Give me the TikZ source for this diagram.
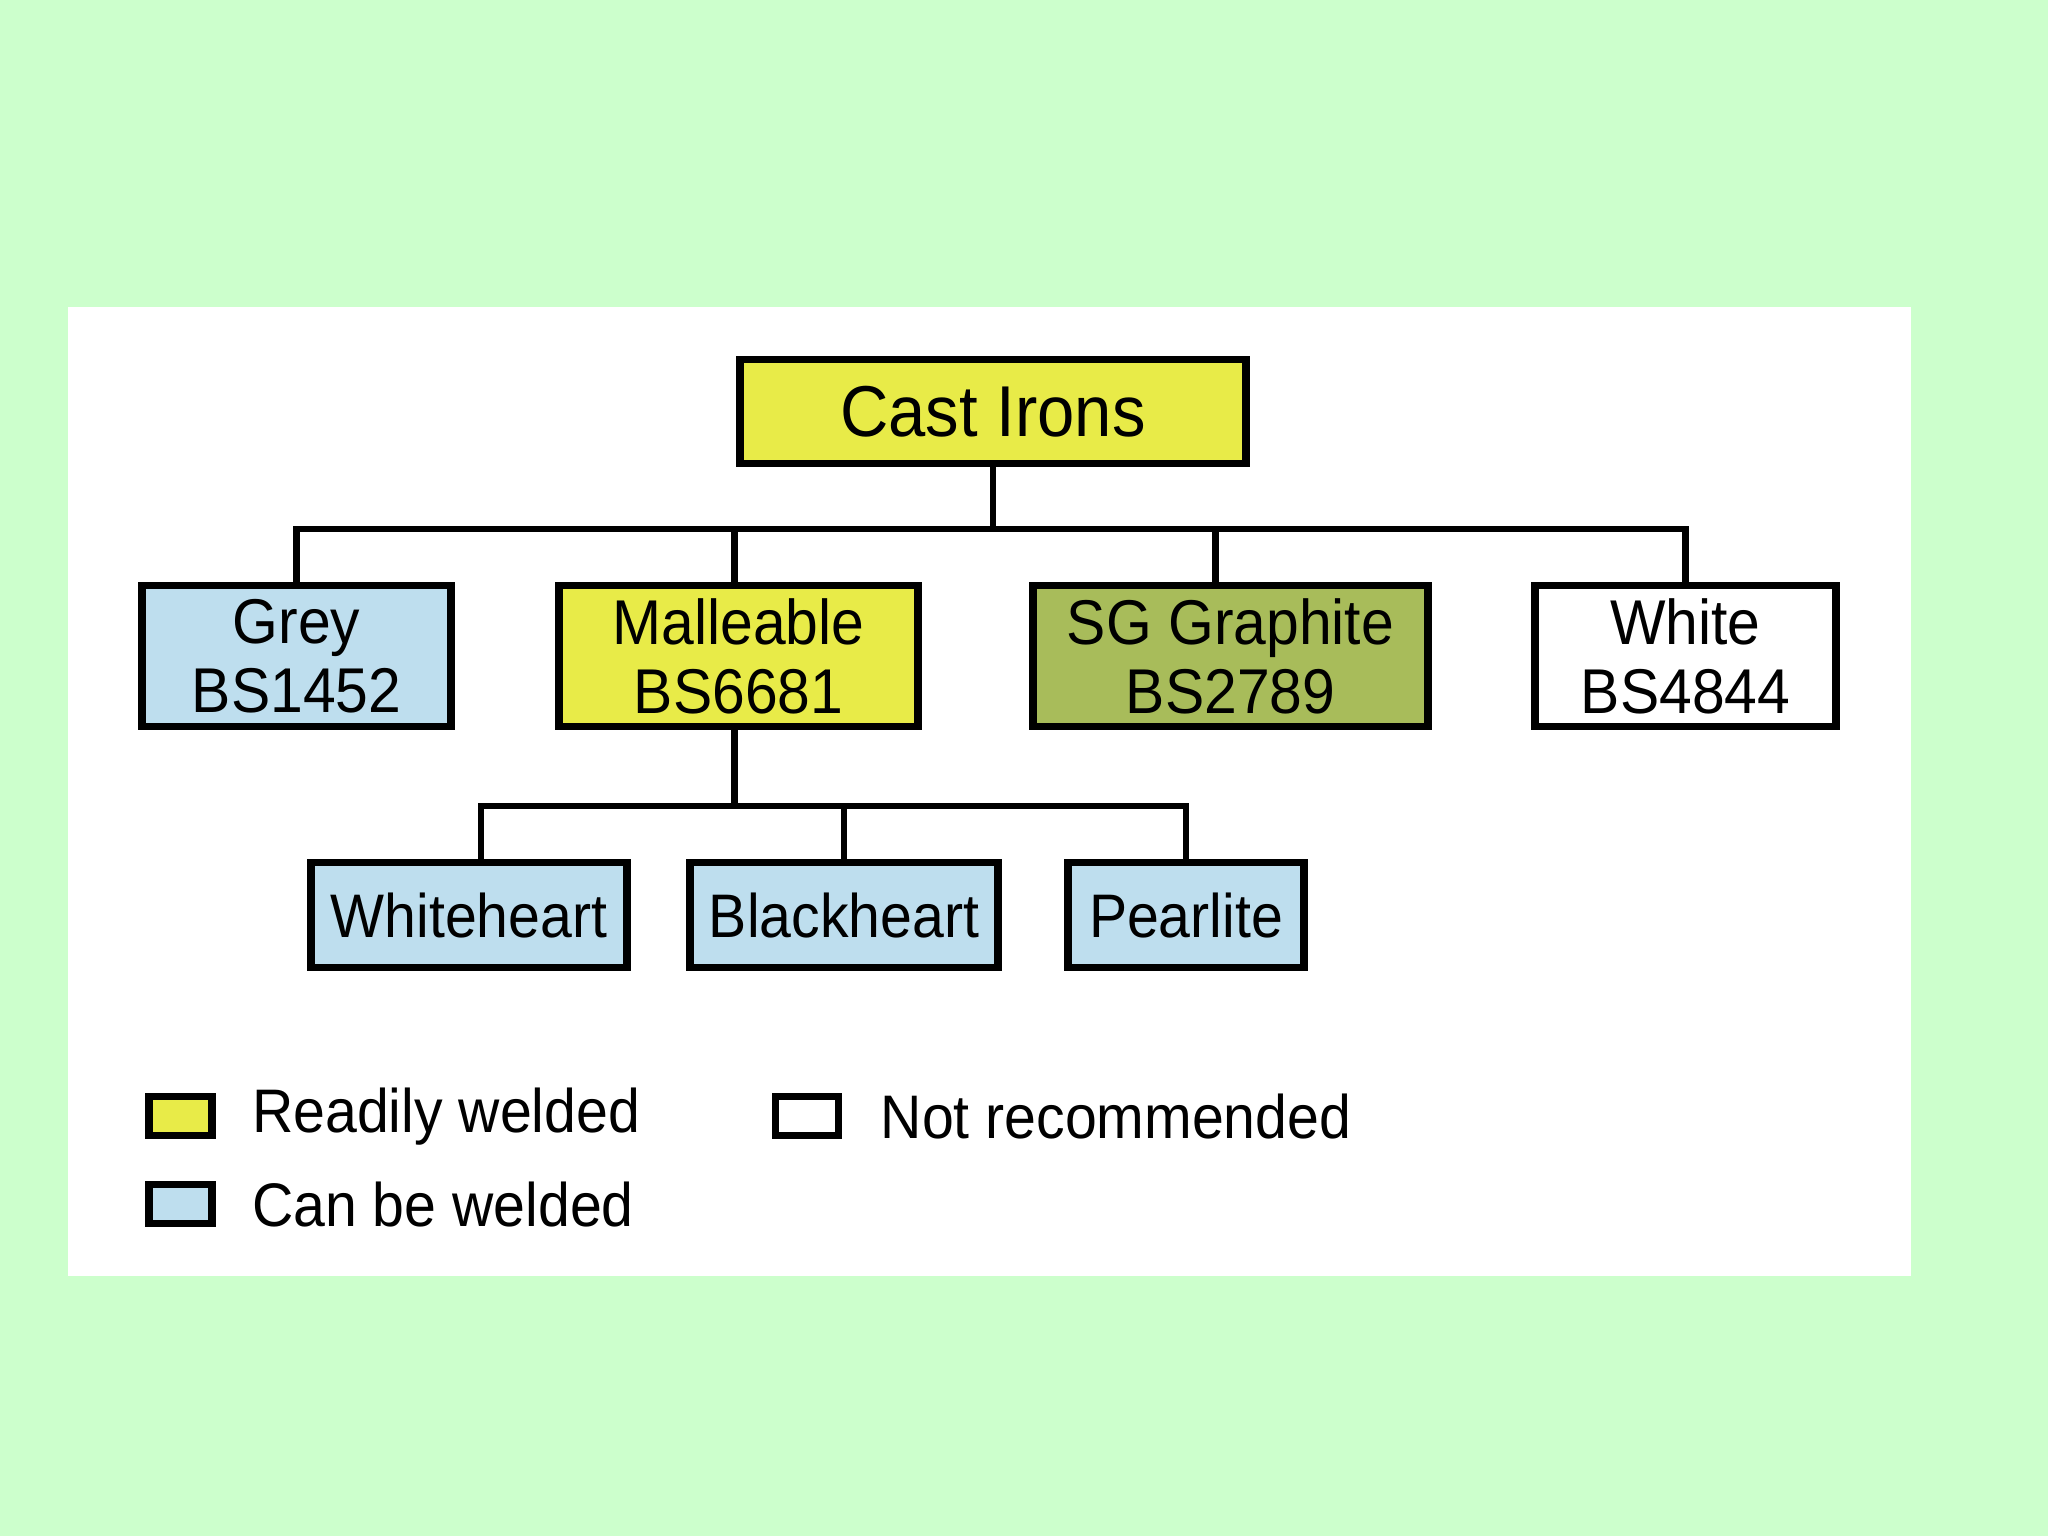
\documentclass[tikz,border=0pt]{standalone}
\usepackage{fontspec}
\setmainfont[FakeStretch=0.93]{Liberation Sans}
\usepackage{tikz}
\usetikzlibrary{positioning, calc}
\definecolor{bggreen}{RGB}{204,255,204}
\definecolor{weldyel}{RGB}{232,235,72}
\definecolor{weldblue}{RGB}{190,222,238}
\definecolor{weldolive}{RGB}{168,188,90}
\tikzset{every node/.append style={align=center, inner sep=2pt}}

\begin{document}
\begin{tikzpicture}[
    box/.style={rectangle, draw=black, line width=2pt, text=black},
    ready/.style={box, fill=weldyel},
    can/.style={box, fill=weldblue},
    sgbox/.style={box, fill=weldolive},
    notrec/.style={box, fill=white},
    top/.style={font=\fontsize{20.5}{22}\selectfont},
    mid/.style={font=\fontsize{18}{19.6}\selectfont, minimum height=1.41cm},
    low/.style={font=\fontsize{17.5}{19}\selectfont, minimum height=1.05cm},
    swatch/.style={box, minimum width=0.63cm, minimum height=0.39cm, inner sep=0pt},
    ltext/.style={font=\fontsize{17.5}{19}\selectfont, anchor=west, inner sep=0pt},
    ln/.style={line width=1.9pt, black}
]
\useasboundingbox (0,0) rectangle (20.48,15.36);
\fill[bggreen] (0,0) rectangle (20.48,15.36);
\fill[white] (0.68,2.60) rectangle (19.11,12.29);
% ===== TOP =====
\node[ready, top, minimum width=5.06cm, minimum height=1.04cm] (cast) at (9.93,11.245) {Cast Irons};
% ===== MAIN GROUPS =====
\node[can, mid, minimum width=3.09cm]    (grey)  at (2.965,8.795)  {Grey\\BS1452};
\node[ready, mid, minimum width=3.59cm]  (mall)  at (7.385,8.795)  {Malleable\\BS6681};
\node[sgbox, mid, minimum width=3.95cm]  (sg)    at (12.305,8.795) {SG Graphite\\BS2789};
\node[notrec, mid, minimum width=3.01cm] (white) at (16.855,8.795) {White\\BS4844};
\coordinate (bus1) at (0,10.07);
\draw[ln] (cast.south) -- (cast.south |- bus1) -| (grey.north);
\draw[ln] (cast.south) -- (cast.south |- bus1) -| ([xshift=-0.04cm]mall.north);
\draw[ln] (cast.south) -- (cast.south |- bus1) -| ([xshift=-0.15cm]sg.north);
\draw[ln] (cast.south) -- (cast.south |- bus1) -| (white.north);
% ===== MALLEABLE TYPES =====
\node[can, low, minimum width=3.16cm] (wheart) at (4.69,6.205)  {Whiteheart};
\node[can, low, minimum width=3.08cm] (bheart) at (8.44,6.205)  {Blackheart};
\node[can, low, minimum width=2.36cm] (pearl)  at (11.86,6.205) {Pearlite};
\coordinate (bus2) at (0,7.30);
\draw[ln] ([xshift=-0.04cm]mall.south) -- ([xshift=-0.04cm]mall.south |- bus2) -| ([xshift=0.12cm]wheart.north);
\draw[ln] ([xshift=-0.04cm]mall.south) -- ([xshift=-0.04cm]mall.south |- bus2) -| (bheart.north);
\draw[ln] ([xshift=-0.04cm]mall.south) -- ([xshift=-0.04cm]mall.south |- bus2) -| (pearl.north);
% ===== LEGEND =====
\node[swatch, fill=weldyel]  (kready) at (1.805,4.195) {};
\node[swatch, fill=weldblue] (kcan)   at (1.805,3.315) {};
\node[swatch, fill=white]    (knot)   at (8.07,4.195)  {};
\node[ltext] (tready) at ([xshift=0.36cm]kready.east) {Readily welded};
\node[ltext] (tcan)   at ([xshift=0.36cm]kcan.east)   {Can be welded};
\node[ltext] (tnot)   at ([xshift=0.38cm]knot.east)   {Not recommended};
\end{tikzpicture}
\end{document}
